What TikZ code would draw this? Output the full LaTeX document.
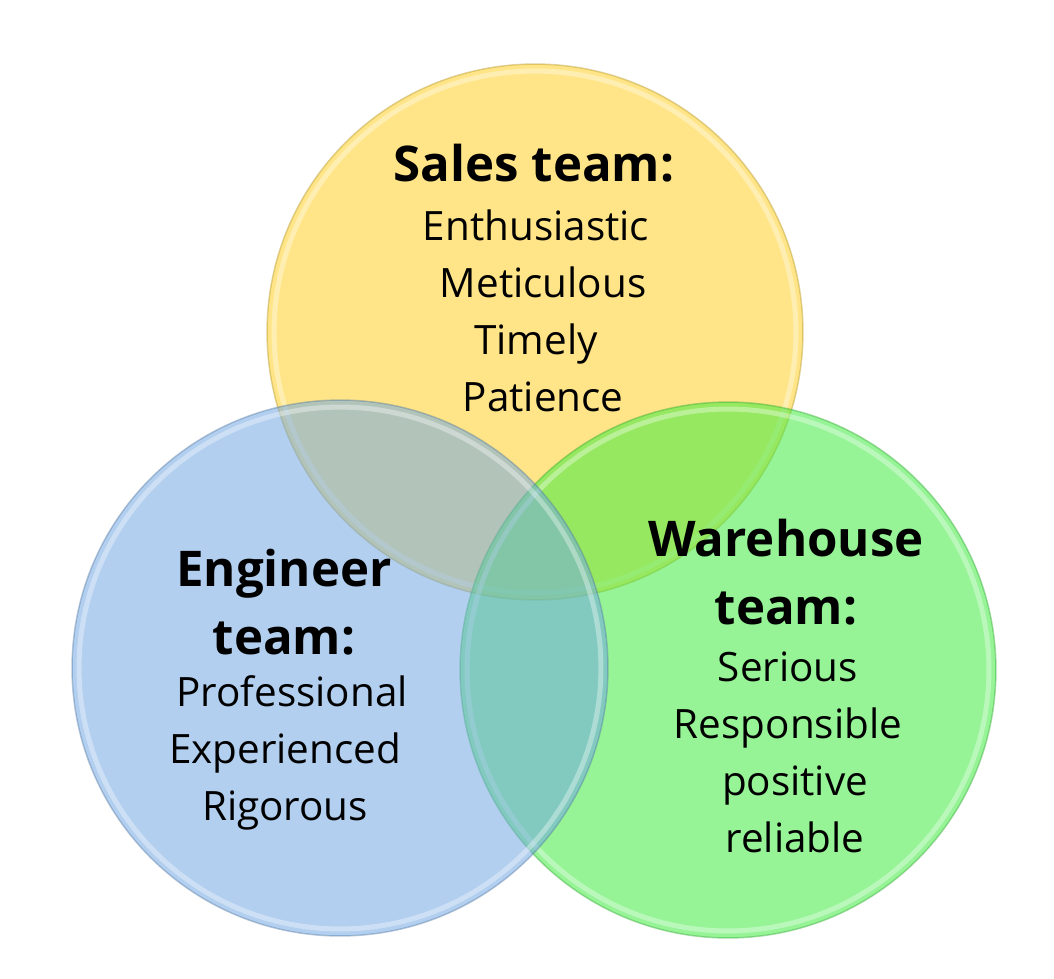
\documentclass[tikz,border=0pt]{standalone}
\usepackage{fontspec}
\setmainfont{Open Sans}
\definecolor{salesfill}{RGB}{255,208,40}
\definecolor{engfill}{RGB}{115,169,227}
\definecolor{warefill}{RGB}{64,236,64}
\tikzset{
  teamcircle/.style={fill opacity=0.55, draw opacity=0.4, line width=0.03cm},
  rim/.style={draw=white, draw opacity=0.35, line width=0.1cm},
  teamtitle/.style={font=\bfseries\fontsize{28}{38.7}\selectfont, align=center, inner sep=0pt},
  teamtext/.style={font=\fontsize{23}{32.4}\selectfont, align=center, inner sep=0pt},
}
\newcommand{\lead}{\hspace*{0.35em}}
\begin{document}
\begin{tikzpicture}[x=0.02cm,y=-0.02cm]
  \useasboundingbox (0,0) rectangle (1054,978);
  \fill[white] (0,0) rectangle (1054,978);
  % circles
  \filldraw[fill=salesfill, draw=salesfill!70!black, teamcircle] (535,332) circle (5.36cm);
  \draw[rim] (535,332) circle (5.22cm);
  \filldraw[fill=warefill, draw=warefill!70!black, teamcircle] (728,670) circle (5.36cm);
  \draw[rim] (728,670) circle (5.22cm);
  \filldraw[fill=engfill, draw=engfill!70!black, teamcircle] (340,668) circle (5.36cm);
  \draw[rim] (340,668) circle (5.22cm);
  % texts
  \node[teamtitle] (salestitle) at (534,163) {Sales team:};
  \node[teamtext] (salestext) at (536,311) {Enthusiastic\\\lead Meticulous\\Timely\\\lead Patience};
  \node[teamtitle] (engtitle) at (284,602) {Engineer\\team:};
  \node[teamtext] (engtext) at (285,753) {\lead Professional\\Experienced\\Rigorous};
  \node[teamtitle] (waretitle) at (786,572) {Warehouse\\team:};
  \node[teamtext] (waretext) at (788,752) {Serious\\Responsible\\\lead positive\\\lead reliable};
\end{tikzpicture}
\end{document}
